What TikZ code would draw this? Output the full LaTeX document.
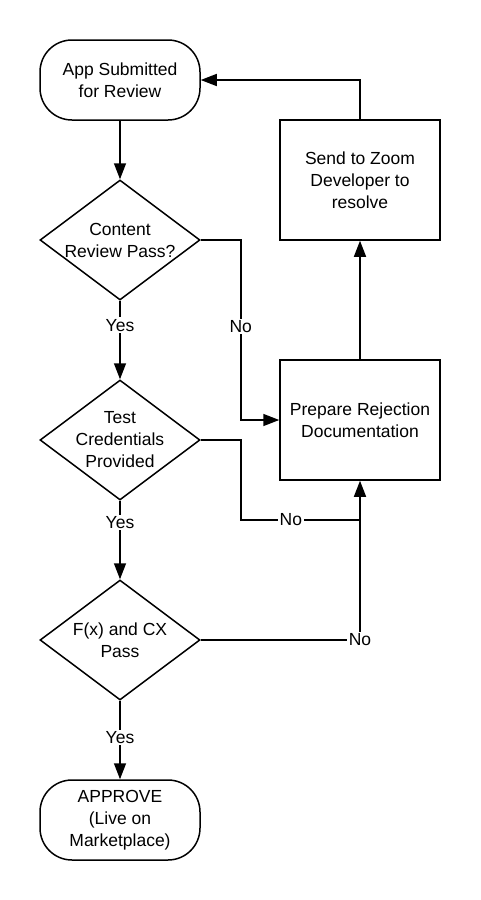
\documentclass[tikz,border=0pt]{standalone}
\usepackage{fontspec}
\setmainfont{Liberation Sans}
\usepackage{tikz}
\usetikzlibrary{arrows.meta,positioning,shapes.geometric}
\tikzset{
  terminal/.style={draw,rounded corners=32pt,minimum width=160pt,minimum height=80pt,align=center},
  process/.style={draw,minimum width=160pt,minimum height=120pt,align=center},
  decision/.style={draw,diamond,minimum width=160pt,minimum height=120pt,inner sep=0pt},
  flow/.style={-{Triangle[length=16pt,width=12pt]}},
  lbl/.style={fill=white,inner sep=1.5pt},
  every node/.style={font=\fontsize{17.5}{22}\selectfont}
}

\begin{document}
\begin{tikzpicture}[x=1pt,y=-1pt,line width=1.5pt,line join=miter]
  % ---- page (matches the screenshot size) ----
  \useasboundingbox (0,0) rectangle (480,900);

  % ---- left column: checks ----
  \node[terminal] (submit) at (120,80) {App Submitted\\for Review};
  \node[decision,label={[align=center]center:Content\\Review Pass?}] (content) at (120,240) {};
  \node[decision,label={[align=center]center:Test\\Credentials\\Provided}] (creds) at (120,440) {};
  \node[decision,label={[align=center]center:F(x) and CX\\Pass}] (fx) at (120,640) {};
  \node[terminal] (approve) at (120,820) {APPROVE\\(Live on\\Marketplace)};

  % ---- right column: rejection ----
  \node[process] (send) at (360,180) {Send to Zoom\\Developer to\\resolve};
  \node[process] (prep) at (360,420) {Prepare Rejection\\Documentation};
  \coordinate (join) at (360,520);

  % ---- yes path ----
  \draw[flow] (submit.south) -- (content.north);
  \draw[flow] (content.south) -- node[lbl,pos=0.31]{Yes} (creds.north);
  \draw[flow] (creds.south) -- node[lbl,pos=0.28]{Yes} (fx.north);
  \draw[flow] (fx.south) -- node[lbl,pos=0.47]{Yes} (approve.north);

  % ---- no path ----
  \draw[flow] (content.east) -- ++(40,0) |- node[lbl,pos=0.24]{No} (prep.west);
  \draw (creds.east) -- ++(40,0) |- node[lbl,pos=0.71]{No} (join);
  \draw[flow] (fx.east) -| node[lbl,pos=0.5]{No} (prep.south);

  % ---- back to start ----
  \draw[flow] (prep.north) -- (send.south);
  \draw[flow] (send.north) |- (submit.east);
\end{tikzpicture}
\end{document}
